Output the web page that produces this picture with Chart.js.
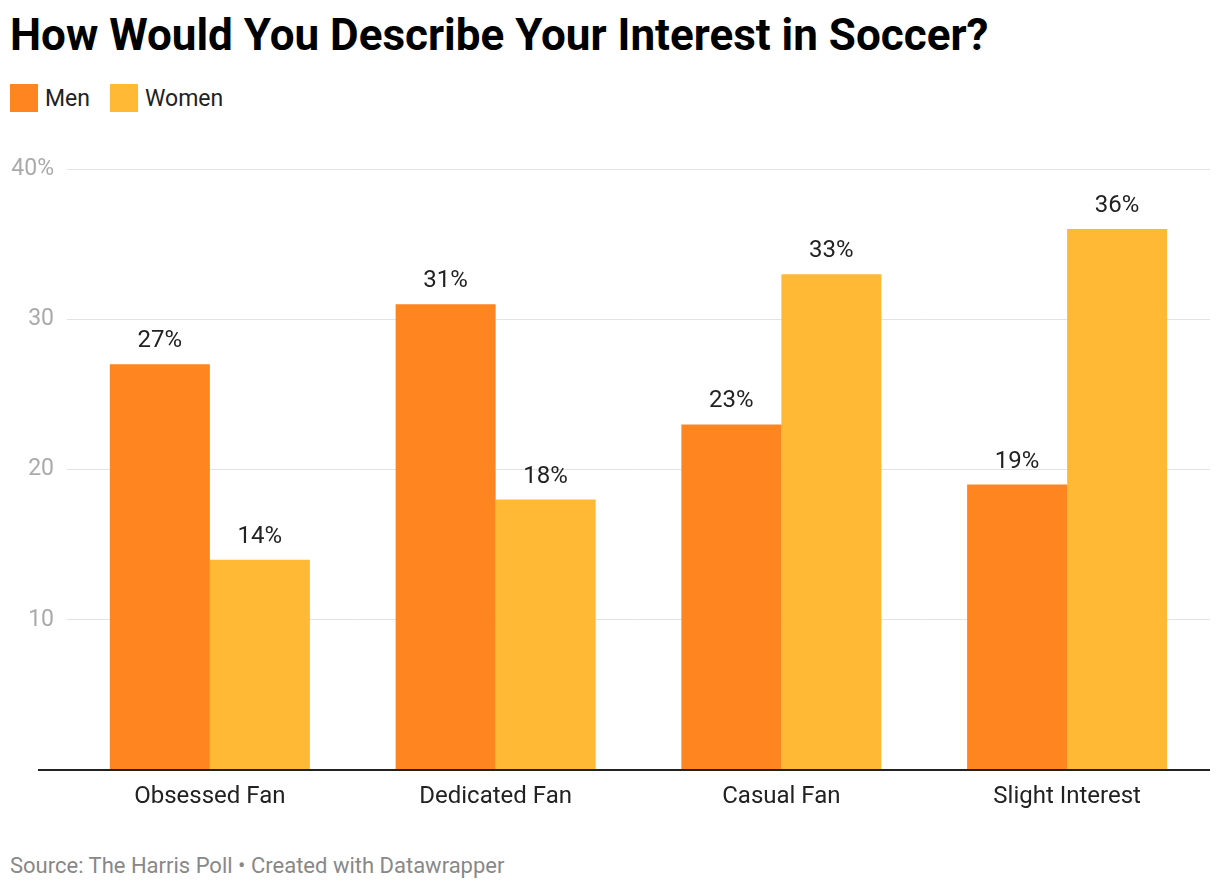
<!DOCTYPE html>
<html>
<head>
<meta charset="utf-8">
<script src="https://cdn.jsdelivr.net/npm/chart.js@4/dist/chart.umd.min.js"></script>
<style>
  body { margin: 0; background: #fff; font-family: Roboto, sans-serif; }
  #wrap { position: relative; width: 1220px; height: 890px; }
  h1 { position: absolute; left: 10px; top: 9px; margin: 0; font-size: 44px; font-weight: 700; color: #000; }
  .legend { position: absolute; left: 10px; top: 84px; display: flex; align-items: center; font-size: 23px; color: #222; }
  .legend span.sw { display: inline-block; width: 28px; height: 28px; margin-right: 7px; }
  .legend span.lb { margin-right: 20px; }
  #box { position: absolute; left: 0; top: 130px; width: 1220px; height: 690px; }
  .source { position: absolute; left: 10px; top: 853px; font-size: 22px; color: #888; }
</style>
</head>
<body>
<div id="wrap">
  <h1>How Would You Describe Your Interest in Soccer?</h1>
  <div class="legend" id="legend"></div>
  <div id="box"><canvas id="chart"></canvas></div>
  <div class="source">Source: The Harris Poll • Created with Datawrapper</div>
</div>
<script>
// survey answers, share of respondents (%)
const categories = ['Obsessed Fan', 'Dedicated Fan', 'Casual Fan', 'Slight Interest'];
const menValues = [27, 31, 23, 19];
const womenValues = [14, 18, 33, 36];
const seriesNames = ['Men', 'Women'];
const seriesColors = ['#fe8520', '#ffb935'];
const yTicks = [0, 10, 20, 30, 40];

// html legend like datawrapper
const legendEl = document.getElementById('legend');
seriesNames.forEach((name, i) => {
  legendEl.innerHTML += `<span class="sw" style="background:${seriesColors[i]}"></span><span class="lb">${name}</span>`;
});

// value labels above each bar
const valueLabels = {
  id: 'valueLabels',
  afterDatasetsDraw(chart) {
    const ctx = chart.ctx;
    ctx.save();
    ctx.font = '24px Roboto';
    ctx.fillStyle = '#222';
    ctx.textAlign = 'center';
    ctx.textBaseline = 'middle';
    chart.data.datasets.forEach((ds, di) => {
      chart.getDatasetMeta(di).data.forEach((bar, i) => {
        ctx.fillText(ds.data[i] + '%', bar.x, bar.y - 23);
      });
    });
    ctx.restore();
  }
};

// black baseline, reaching under the y labels
const baseline = {
  id: 'baseline',
  afterDatasetsDraw(chart) {
    const ctx = chart.ctx;
    const y = chart.scales.y.getPixelForValue(0);
    ctx.save();
    ctx.strokeStyle = '#222';
    ctx.lineWidth = 2;
    ctx.beginPath();
    ctx.moveTo(chart.chartArea.left - 29, y);
    ctx.lineTo(chart.chartArea.right, y);
    ctx.stroke();
    ctx.restore();
  }
};

new Chart(document.getElementById('chart'), {
  type: 'bar',
  data: {
    labels: categories,
    datasets: [
      { label: seriesNames[0], data: menValues, backgroundColor: seriesColors[0] },
      { label: seriesNames[1], data: womenValues, backgroundColor: seriesColors[1] }
    ]
  },
  options: {
    responsive: true,
    maintainAspectRatio: false,
    animation: false,
    categoryPercentage: 0.7,
    barPercentage: 1,
    layout: { padding: { top: 39, right: 10, left: 0, bottom: 0 } },
    plugins: {
      legend: { display: false },
      tooltip: { enabled: false }
    },
    scales: {
      x: {
        grid: { display: false, drawTicks: false },
        border: { display: false },
        ticks: { font: { family: 'Roboto', size: 24 }, color: '#222', padding: 13 },
        afterFit: (s) => { s.height = 50; }
      },
      y: {
        min: 0,
        max: 40,
        afterBuildTicks: (s) => { s.ticks = yTicks.map(v => ({ value: v })); },
        grid: { color: '#e3e3e3', lineWidth: 1, drawTicks: false },
        border: { display: false },
        ticks: {
          font: { family: 'Roboto', size: 23 },
          color: '#aaa',
          padding: 13,
          callback: (v) => v === 0 ? '' : (v === 40 ? v + '%' : v)
        },
        afterFit: (s) => { s.width = 67; }
      }
    }
  },
  plugins: [valueLabels, baseline]
});
</script>
</body>
</html>
